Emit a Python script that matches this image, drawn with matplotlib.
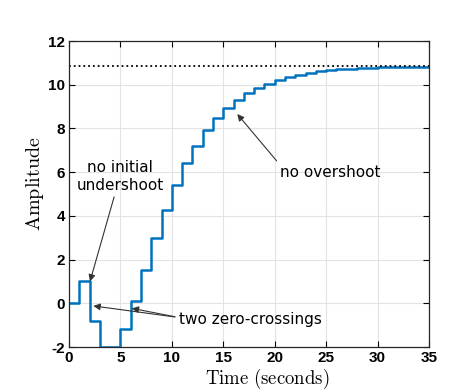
import numpy as np
import matplotlib
matplotlib.use('Agg')
import matplotlib.pyplot as plt

plt.rcParams['mathtext.fontset'] = 'cm'

# step response samples, one per second
time = list(range(0, 36))
amplitude = [0.0, 1.0, -0.8, -2.0, -2.0, -1.19, 0.1, 1.52, 2.97, 4.27,
             5.41, 6.40, 7.22, 7.93, 8.47, 8.95, 9.30, 9.64, 9.86, 10.05,
             10.21, 10.34, 10.46, 10.55, 10.61, 10.67, 10.71, 10.74, 10.76, 10.78,
             10.80, 10.81, 10.82, 10.83, 10.83, 10.84]
final_value = 10.84

xticks = [0, 5, 10, 15, 20, 25, 30, 35]
yticks = [-2, 0, 2, 4, 6, 8, 10, 12]


def plot_step(path):
    fig = plt.figure(figsize=(4.74, 3.91), dpi=100)
    ax = fig.add_axes([0.1456, 0.1125, 0.7594, 0.7825])

    ax.step(time, amplitude, where='post', color='#0072BD', linewidth=1.8)
    ax.axhline(final_value, color='black', linestyle=':', linewidth=1.3)

    ax.set_xlim(0, 35)
    ax.set_ylim(-2, 12)
    ax.set_xticks(xticks)
    ax.set_yticks(yticks)
    tick_font = dict(family='Liberation Sans', weight='bold', size=11)
    ax.set_xticklabels([str(t) for t in xticks], **tick_font)
    ax.set_yticklabels([str(t) for t in yticks], **tick_font)
    ax.tick_params(direction='in', top=True, right=True, length=4, width=0.8)
    ax.tick_params(axis='x', pad=3)
    ax.tick_params(axis='y', pad=3)
    ax.grid(True, color='#e3e3e3', linewidth=0.8)
    ax.set_axisbelow(True)
    for s in ax.spines.values():
        s.set_linewidth(0.9)
        s.set_color('#262626')

    xl = ax.set_xlabel(r'$\mathrm{Time\ (seconds)}$', size=13.5)
    xl.set_va('center')
    ax.xaxis.set_label_coords(0.55, -0.105)
    yl = ax.set_ylabel(r'$\mathrm{Amplitude}$', size=14.5)
    yl.set_va('center')
    ax.yaxis.set_label_coords(-0.094, 0.533)

    arrow = dict(arrowstyle='-|>', color='#333333', lw=0.8, mutation_scale=10,
                 shrinkA=1, shrinkB=0)
    note_font = dict(family='DejaVu Sans', size=11)

    ax.annotate('no initial\nundershoot', xy=(2.04, 1.0), xytext=(4.95, 5.8),
                ha='center', va='center', arrowprops=arrow, **note_font)
    ax.annotate('no overshoot', xy=(16.36, 8.66), xytext=(20.5, 6.0),
                ha='left', va='center',
                arrowprops=dict(arrow, relpos=(0, 1)), **note_font)
    ax.annotate('two zero-crossings', xy=(2.37, -0.12), xytext=(10.7, -0.72),
                ha='left', va='center',
                arrowprops=dict(arrow, relpos=(0, 0.6)), **note_font)
    ax.annotate('two zero-crossings', xy=(6.1, -0.23), xytext=(10.7, -0.72),
                ha='left', va='center', alpha=0,
                arrowprops=dict(arrow, relpos=(0, 0.6), alpha=1), **note_font)

    plt.savefig(path)


if __name__ == '__main__':
    plot_step('out.png')
